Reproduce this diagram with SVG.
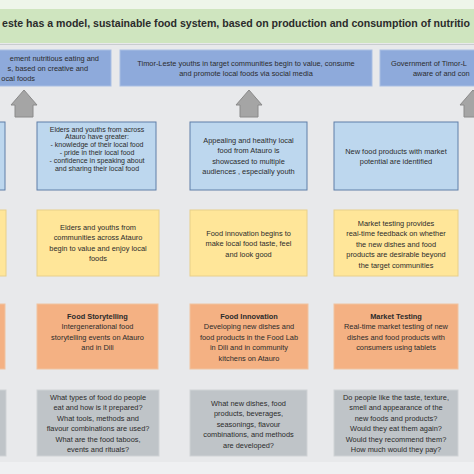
<svg xmlns="http://www.w3.org/2000/svg" width="474" height="474" viewBox="0 0 474 474">
<style>
text{font-family:"Liberation Sans",Arial,sans-serif;font-size:7.4px;fill:#2b2b2b;text-anchor:middle}
.b{font-weight:bold}
.l{text-anchor:start}
.e{text-anchor:end}
.s{font-size:7px}
.r1{fill:#8eaadb;stroke:#a9bfe3;stroke-width:1}
.r2{fill:#bdd7ee;stroke:#5f7fa8;stroke-width:1}
.r3{fill:#ffe699;stroke:#e8d08a;stroke-width:1}
.r4{fill:#f4b183;stroke:#f0c3a0;stroke-width:1}
.r5{fill:#bfc4c8;stroke:#cfd3d6;stroke-width:1}
.arr{fill:#a5a5a5;stroke:#8a8a8a;stroke-width:1}
</style>
<rect x="0" y="0" width="474" height="474" fill="#e8e9eb"/>
<rect x="0" y="0" width="474" height="9" fill="#eef5ea"/>
<rect x="0" y="462" width="474" height="12" fill="#eff0f2"/>
<g id="goal">
<rect x="-2" y="9" width="478" height="34" fill="#cfe5bf"/>
<line x1="0" y1="44.5" x2="474" y2="44.5" stroke="#c9ccd0" stroke-width="1"/>
<text class="b l" x="2" y="27" style="font-size:11px" textLength="468" lengthAdjust="spacingAndGlyphs">este has a model, sustainable food system, based on production and consumption of nutritio</text>
</g>
<g id="outcome1">
<rect class="r1" x="-2" y="50" width="113" height="36"/>
<text class="e" x="99" y="61">ement nutritious eating and</text>
<text class="e" x="88" y="71">s, based on creative and</text>
<text class="e" x="35" y="81">ocal foods</text>
</g>
<g id="outcome2">
<rect class="r1" x="120" y="50" width="252" height="36"/>
<text x="246" y="66">Timor-Leste youths in target communities begin to value, consume</text>
<text x="246" y="76">and promote local foods via social media</text>
</g>
<g id="outcome3">
<rect class="r1" x="380" y="50" width="100" height="36"/>
<text class="l" x="391" y="66">Government of Timor-L</text>
<text class="l" x="413" y="76">aware of and con</text>
</g>
<g id="connectors">
<path class="arr" d="M24,90 L37,105 L33,105 L33,117 L15,117 L15,105 L11,105 Z"/>
<path class="arr" d="M249,90 L262,105 L258,105 L258,117 L240,117 L240,105 L236,105 Z"/>
<path class="arr" d="M473,90 L486,105 L482,105 L482,117 L464,117 L464,105 L460,105 Z"/>
</g>
<g id="impact-left"><rect class="r2" x="-5" y="122" width="10" height="68"/></g>
<g id="impact-storytelling">
<rect class="r2" x="37" y="122" width="119" height="68"/>
<text class="s" x="97" y="131.5">Elders and youths from across</text>
<text class="s" x="97" y="139.3">Atauro  have greater:</text>
<text class="s" x="97" y="147.1">- knowledge of their local food</text>
<text class="s" x="97" y="154.9">- pride in their local food</text>
<text class="s" x="97" y="162.7">- confidence in speaking about</text>
<text class="s" x="97" y="170.5">and sharing their local food</text>
</g>
<g id="impact-innovation">
<rect class="r2" x="190" y="122" width="117" height="68"/>
<text x="248.5" y="142.5">Appealing and healthy local</text>
<text x="248.5" y="153">food from Atauro is</text>
<text x="248.5" y="163.5">showcased to multiple</text>
<text x="248.5" y="174">audiences , especially youth</text>
</g>
<g id="impact-market">
<rect class="r2" x="334" y="122" width="124" height="68"/>
<text x="396" y="153.5">New food products with market</text>
<text x="396" y="164">potential are identified</text>
</g>
<g id="result-left"><rect class="r3" x="-5" y="210" width="11" height="66"/></g>
<g id="result-storytelling">
<rect class="r3" x="37" y="210" width="122" height="66"/>
<text x="98" y="229.5">Elders and youths from</text>
<text x="98" y="240">communities across Atauro</text>
<text x="98" y="250.5">begin to value and enjoy local</text>
<text x="98" y="261">foods</text>
</g>
<g id="result-innovation">
<rect class="r3" x="190" y="210" width="117" height="66"/>
<text x="248.5" y="235.5">Food innovation begins to</text>
<text x="248.5" y="246">make local food taste, feel</text>
<text x="248.5" y="256.5">and look good</text>
</g>
<g id="result-market">
<rect class="r3" x="334" y="210" width="124" height="66"/>
<text x="396" y="225.5">Market testing provides</text>
<text x="396" y="236">real-time feedback on whether</text>
<text x="396" y="246.5">the new dishes and food</text>
<text x="396" y="257">products are desirable beyond</text>
<text x="396" y="267.5">the target communities</text>
</g>
<g id="activity-left"><rect class="r4" x="-5" y="304" width="10" height="65"/></g>
<g id="activity-storytelling">
<rect class="r4" x="37" y="304" width="121" height="65"/>
<text class="b" x="97.5" y="318.5">Food Storytelling</text>
<text x="97.5" y="329">Intergenerational food</text>
<text x="97.5" y="339.5">storytelling events on Atauro</text>
<text x="97.5" y="350">and in Dili</text>
</g>
<g id="activity-innovation">
<rect class="r4" x="190" y="304" width="118" height="65"/>
<text class="b" x="249" y="318.5">Food Innovation</text>
<text x="249" y="329">Developing new dishes and</text>
<text x="249" y="339.5">food products in the Food Lab</text>
<text x="249" y="350">in Dili and in community</text>
<text x="249" y="360.5">kitchens on Atauro</text>
</g>
<g id="activity-market">
<rect class="r4" x="334" y="304" width="124" height="65"/>
<text class="b" x="396" y="318.5">Market Testing</text>
<text x="396" y="329">Real-time market testing of new</text>
<text x="396" y="339.5">dishes and food products with</text>
<text x="396" y="350">consumers using tablets</text>
</g>
<g id="question-left"><rect class="r5" x="-5" y="390" width="11" height="66"/></g>
<g id="question-storytelling">
<rect class="r5" x="37" y="390" width="122" height="66"/>
<text x="98" y="399.5">What types of food do people</text>
<text x="98" y="410">eat and how is it prepared?</text>
<text x="98" y="420.5">What tools, methods and</text>
<text x="98" y="431">flavour combinations are used?</text>
<text x="98" y="441.5">What are the food taboos,</text>
<text x="98" y="452">events and rituals?</text>
</g>
<g id="question-innovation">
<rect class="r5" x="190" y="390" width="117" height="66"/>
<text x="248.5" y="405.5">What new dishes, food</text>
<text x="248.5" y="416">products, beverages,</text>
<text x="248.5" y="426.5">seasonings, flavour</text>
<text x="248.5" y="437">combinations, and methods</text>
<text x="248.5" y="447.5">are developed?</text>
</g>
<g id="question-market">
<rect class="r5" x="334" y="390" width="124" height="66"/>
<text x="396" y="399.5">Do people like the taste, texture,</text>
<text x="396" y="410">smell and appearance of the</text>
<text x="396" y="420.5">new foods and products?</text>
<text x="396" y="431">Would they eat them again?</text>
<text x="396" y="441.5">Would they recommend them?</text>
<text x="396" y="452">How much would they pay?</text>
</g>
</svg>
